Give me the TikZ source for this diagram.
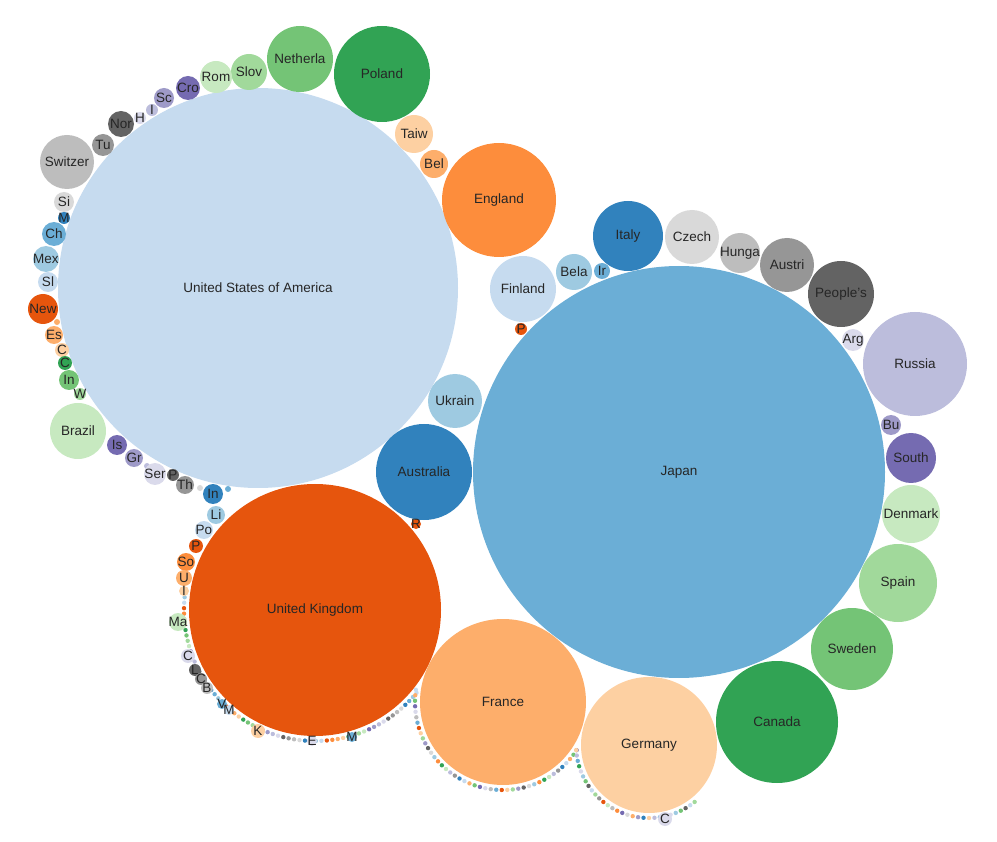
\documentclass[tikz,border=0pt]{standalone}
\usepackage{fontspec}
\setmainfont{Liberation Sans}
\definecolor{cc0}{HTML}{3182BD}\definecolor{cc1}{HTML}{6BAED6}
\definecolor{cc2}{HTML}{9ECAE1}\definecolor{cc3}{HTML}{C6DBEF}
\definecolor{cc4}{HTML}{E6550D}\definecolor{cc5}{HTML}{FD8D3C}
\definecolor{cc6}{HTML}{FDAE6B}\definecolor{cc7}{HTML}{FDD0A2}
\definecolor{cc8}{HTML}{31A354}\definecolor{cc9}{HTML}{74C476}
\definecolor{cc10}{HTML}{A1D99B}\definecolor{cc11}{HTML}{C7E9C0}
\definecolor{cc12}{HTML}{756BB1}\definecolor{cc13}{HTML}{9E9AC8}
\definecolor{cc14}{HTML}{BCBDDC}\definecolor{cc15}{HTML}{DADAEB}
\definecolor{cc16}{HTML}{636363}\definecolor{cc17}{HTML}{969696}
\definecolor{cc18}{HTML}{BDBDBD}\definecolor{cc19}{HTML}{D9D9D9}
\newcommand{\bub}[6]{\fill[#4] (#1,#2) circle (#3);
  \node[lbl] (#5) at (#1,#2) {#6};}

\begin{document}
\begin{tikzpicture}[x=1pt,y=-1pt,
  lbl/.style={inner sep=0pt,font=\fontsize{13.5}{15}\selectfont,text=black!85}]
\useasboundingbox (0,0) rectangle (997,842);
% rings of tiny dots
\foreach \a [count=\i] in {188,185.6,...,38}
  {\pgfmathtruncatemacro\k{mod(\i,20)}\fill[cc\k] (315,610) ++(\a:131) circle (2.2);}
\foreach \a [count=\i] in {188,184.4,...,33}
  {\pgfmathtruncatemacro\k{mod(\i*3,20)}\fill[cc\k] (503,702) ++(\a:88) circle (2.2);}
\foreach \a [count=\i] in {176,171.7,...,50}
  {\pgfmathtruncatemacro\k{mod(\i*7,20)}\fill[cc\k] (649,745) ++(\a:73) circle (2.2);}
\foreach \p/\k in {{(200,488)}/19,{(190,484)}/15,{(228,489)}/1,{(57,322)}/6,{(147,466)}/14}
  \fill[cc\k] \p circle (3);

% big ones
\bub{258}{288}{200}{cc3}{usa}{United States of America}
\bub{679}{472}{206}{cc1}{japan}{Japan}
\bub{315}{610}{126}{cc4}{uk}{United Kingdom}
\bub{503}{702}{83}{cc6}{france}{France}
\bub{649}{745}{68}{cc7}{germany}{Germany}
\bub{777}{722}{61}{cc8}{canada}{Canada}
\bub{852}{649}{41}{cc9}{sweden}{Sweden}
\bub{898}{583}{39}{cc10}{spain}{Spain}
\bub{911}{514}{29}{cc11}{denmark}{Denmark}
\bub{911}{458}{25}{cc12}{south}{South}
\bub{891}{425}{10}{cc13}{bu}{Bu}
\bub{915}{364}{52}{cc14}{russia}{Russia}
\bub{853}{340}{11}{cc15}{arg}{Arg}
\bub{841}{294}{33}{cc16}{people}{People's}
\bub{787}{265}{27}{cc17}{austri}{Austri}
\bub{740}{253}{20}{cc18}{hunga}{Hunga}
\bub{692}{237}{27}{cc19}{czech}{Czech}
\bub{628}{236}{35}{cc0}{italy}{Italy}
\bub{602}{271}{8}{cc1}{ir}{Ir}
\bub{574}{272}{18}{cc2}{bela}{Bela}
\bub{523}{289}{33}{cc3}{finland}{Finland}
\bub{521}{329}{6}{cc4}{pj}{P}
\bub{499}{200}{57}{cc5}{england}{England}
\bub{434}{164}{14}{cc6}{bel}{Bel}
\bub{414}{134}{19}{cc7}{taiw}{Taiw}
\bub{382}{74}{48}{cc8}{poland}{Poland}
\bub{300}{59}{33}{cc9}{netherla}{Netherla}
\bub{249}{72}{18}{cc10}{slov}{Slov}
\bub{216}{77}{16}{cc11}{rom}{Rom}
\bub{188}{88}{12}{cc12}{cro}{Cro}
\bub{164}{98}{10}{cc13}{sc}{Sc}
\bub{152}{110}{6}{cc14}{ii}{I}
\bub{140}{118}{6}{cc15}{hh}{H}
\bub{121}{124}{13}{cc16}{nor}{Nor}
\bub{103}{145}{11}{cc17}{tu}{Tu}
\bub{67}{162}{27}{cc18}{switzer}{Switzer}
\bub{64}{202}{10}{cc19}{si}{Si}
\bub{64}{218}{6}{cc0}{mm}{M}
\bub{54}{234}{12}{cc1}{ch}{Ch}
\bub{46}{259}{13}{cc2}{mex}{Mex}
\bub{48}{282}{10}{cc3}{sl}{Sl}
\bub{43}{309}{15}{cc4}{new}{New}
\bub{54}{335}{9}{cc6}{es}{Es}
\bub{62}{350}{7}{cc7}{ca}{C}
\bub{65}{363}{7}{cc8}{cb}{C}
\bub{69}{380}{10}{cc9}{in}{In}
\bub{80}{394}{6}{cc10}{w}{W}
\bub{78}{431}{28}{cc11}{brazil}{Brazil}
\bub{117}{445}{10}{cc12}{is}{Is}
\bub{134}{458}{9}{cc13}{gr}{Gr}
\bub{155}{474}{11}{cc15}{ser}{Ser}
\bub{173}{475}{6}{cc16}{pu}{P}
\bub{185}{485}{9}{cc17}{th}{Th}
\bub{213}{494}{10}{cc0}{inb}{In}
\bub{216}{515}{9}{cc2}{li}{Li}
\bub{204}{530}{9}{cc3}{po}{Po}
\bub{196}{546}{7}{cc4}{pk}{P}
\bub{186}{562}{9}{cc5}{so}{So}
\bub{184}{578}{8}{cc6}{u}{U}
\bub{184}{591}{5}{cc7}{iu}{I}
\bub{178}{622}{9}{cc11}{ma}{Ma}
\bub{188}{656}{7}{cc15}{cc}{C}
\bub{195}{670}{6}{cc16}{l}{L}
\bub{201}{679}{6}{cc17}{cd}{C}
\bub{207}{688}{6}{cc18}{b}{B}
\bub{222}{704}{5}{cc1}{v}{V}
\bub{229}{710}{5}{cc3}{mb}{M}
\bub{258}{731}{7}{cc7}{k}{K}
\bub{312}{741}{5}{cc15}{e}{E}
\bub{352}{737}{5}{cc1}{mc}{M}
\bub{455}{401}{27}{cc2}{ukrain}{Ukrain}
\bub{424}{472}{48}{cc0}{australia}{Australia}
\bub{416}{524}{5}{cc4}{r}{R}
\bub{665}{819}{7}{cc15}{cg}{C}
\end{tikzpicture}
\end{document}
